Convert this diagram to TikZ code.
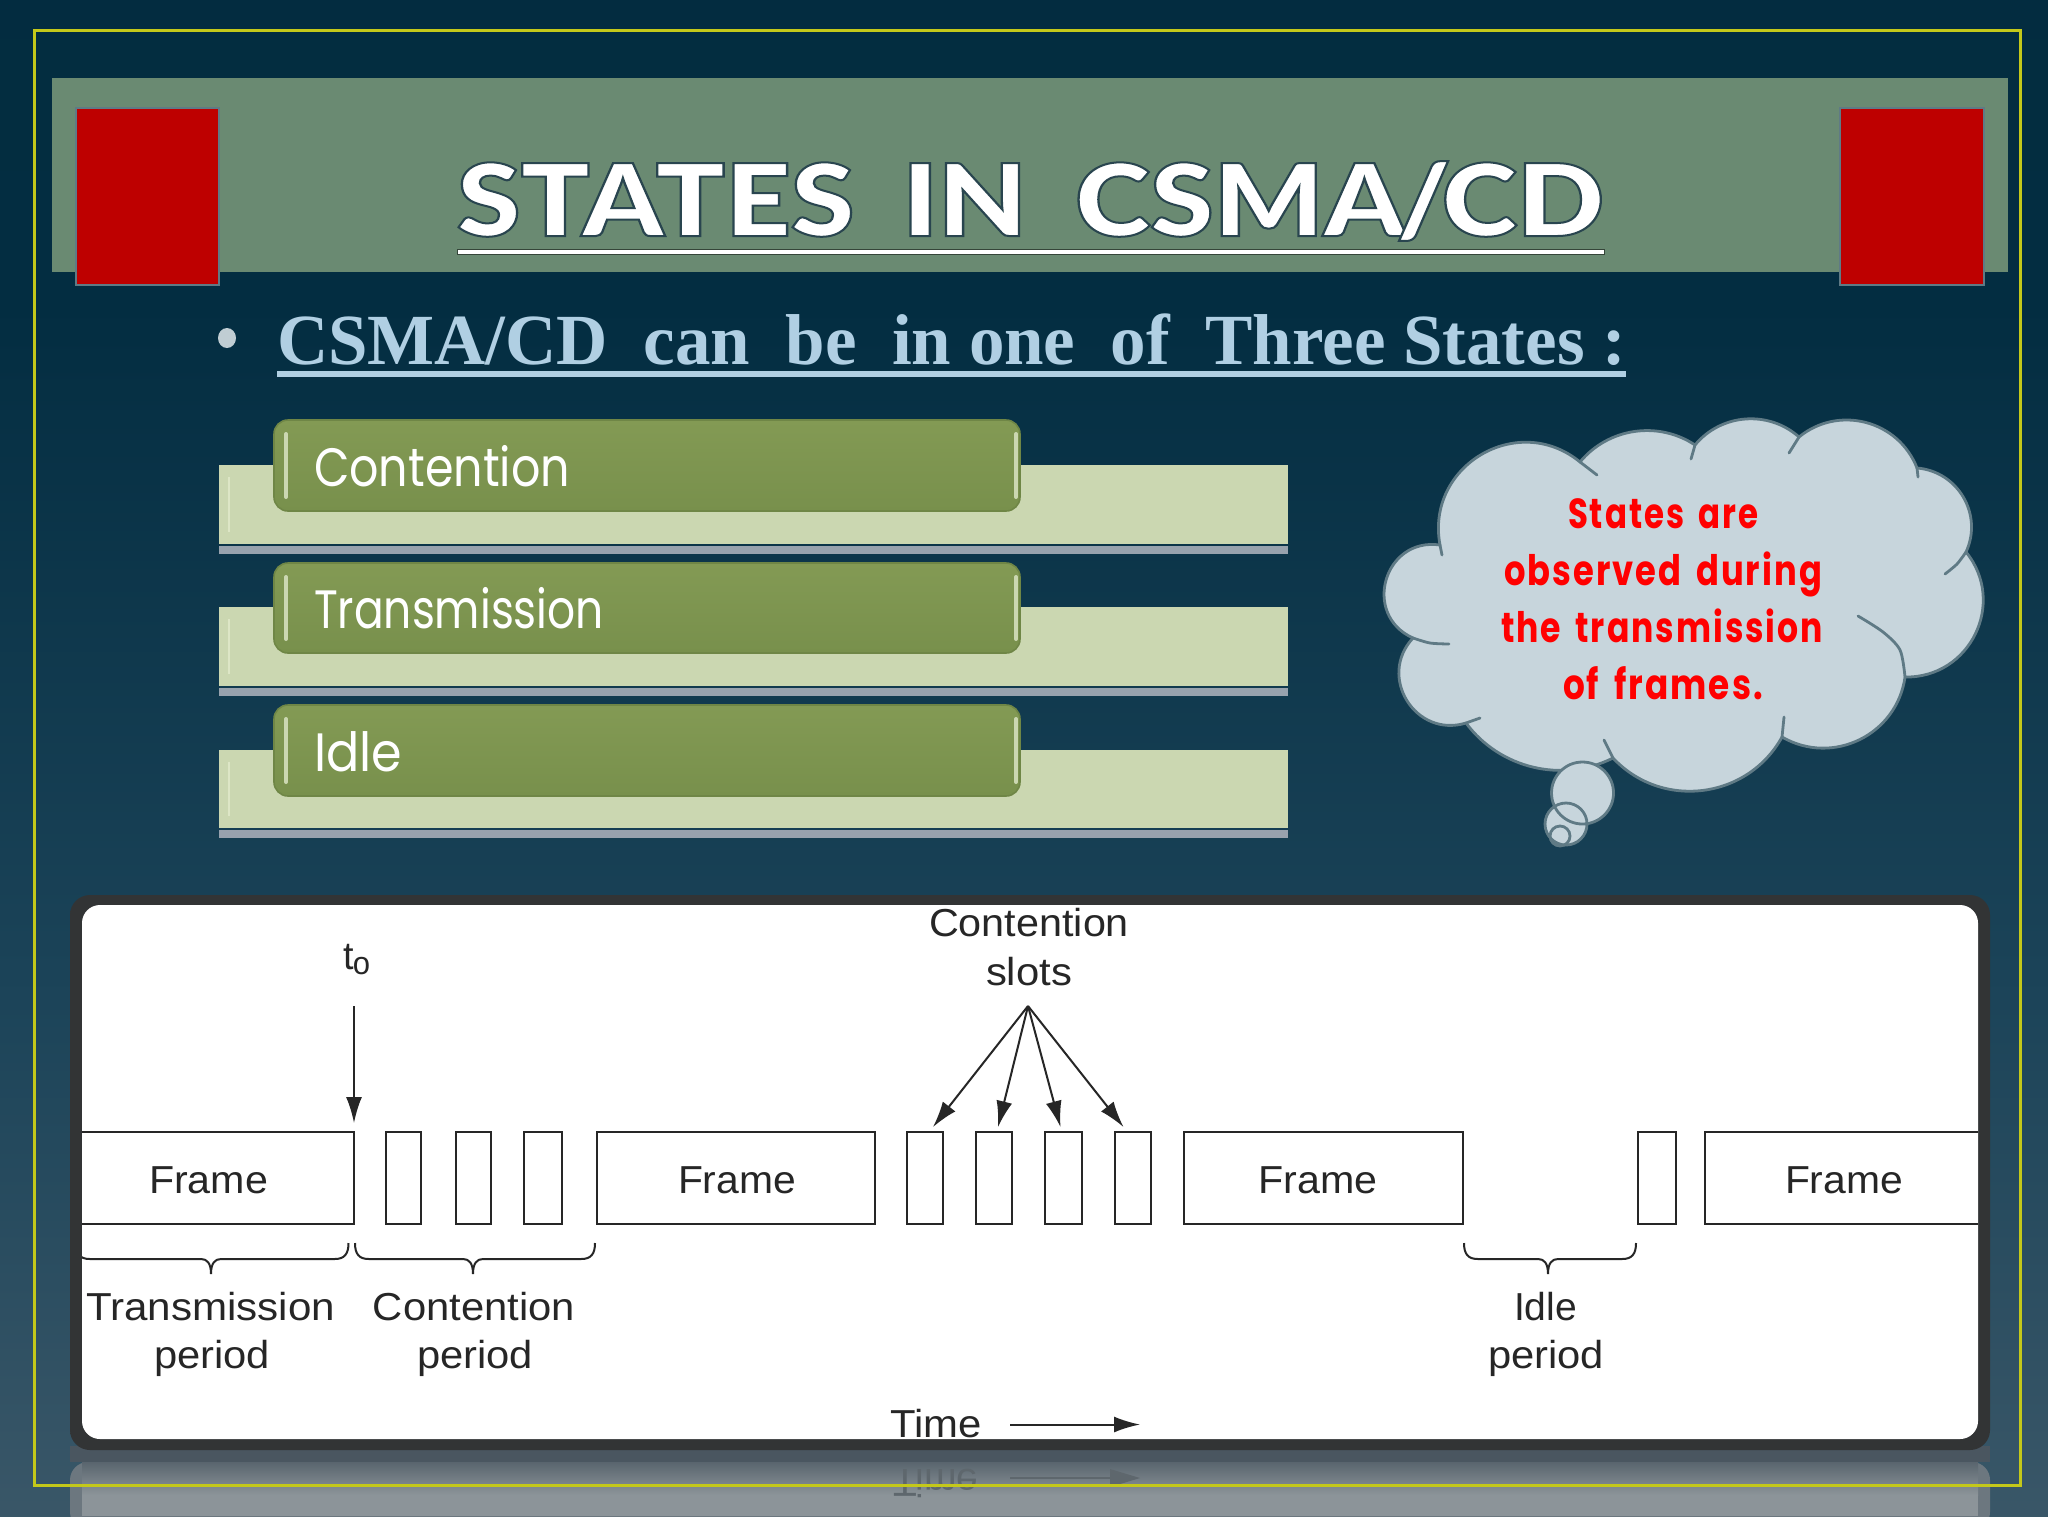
\documentclass[tikz,border=0pt]{standalone}
\usepackage{fontspec}
\usepackage{graphicx}
\usetikzlibrary{arrows.meta}
\setmainfont{Liberation Sans}
\newfontfamily\serfont{Liberation Serif}
\newfontfamily\geofont{Poppins}
\newfontfamily\cloudfont[LetterSpace=6,WordSpace=1.6]{Poppins}
\newfontfamily\heavyfont{Lato Black}
\definecolor{bandc}{HTML}{6A8A72}
\definecolor{redc}{HTML}{BE0000}
\definecolor{yellowc}{HTML}{C4C81A}
\definecolor{headc}{HTML}{B0CFE3}
\definecolor{palec}{HTML}{CBD7B1}
\definecolor{paleh}{HTML}{DDE6C6}
\definecolor{rimc}{HTML}{98A2AE}
\definecolor{greenc}{HTML}{7F9650}
\definecolor{greend}{HTML}{78904C}
\definecolor{greenl}{HTML}{839A54}
\definecolor{greene}{HTML}{6F8646}
\definecolor{cloudc}{HTML}{C7D5DC}
\definecolor{cloudl}{HTML}{5F7A85}
\definecolor{inkc}{HTML}{262626}
\definecolor{bga}{HTML}{667580}
\definecolor{bgb}{HTML}{425C6C}
\definecolor{bgc}{HTML}{1C4459}
\definecolor{bgd}{HTML}{032D41}
\definecolor{bge}{HTML}{022B3D}
\definecolor{reft}{HTML}{59656E}
\definecolor{refb}{HTML}{8C9499}
\definecolor{refr}{HTML}{6C777F}
\definecolor{refk}{HTML}{5E676D}
\definecolor{shadc}{HTML}{4A5660}
\definecolor{frmk}{HTML}{323435}
\definecolor{frmt}{HTML}{6A7372}
\pgfdeclareverticalshading{bgsh}{100bp}{
 color(0bp)=(bga);
 color(20bp)=(bgb);
 color(42bp)=(bgc);
 color(65bp)=(bgd);
 color(100bp)=(bge)}
\pgfdeclareverticalshading{pnlsh}{100bp}{
 color(0bp)=(frmk);
 color(97.5bp)=(frmk);
 color(100bp)=(frmt)}
\def\fit#1#2{\resizebox{\dimexpr #1pt/2\relax}{\height}{#2}}
\def\fs#1{\fontsize{#1}{#1}\selectfont}
\tikzset{
 txt/.style={inner sep=0pt,outer sep=0pt,anchor=base},
 txtw/.style={inner sep=0pt,outer sep=0pt,anchor=base west},
 lab/.style={txt,text=inkc,font=\fs{19.5}},
 redbox/.style={fill=redc,draw=cloudl,line width=1pt},
 greenbox/.style={top color=greenl,bottom color=greend,draw=greene,line width=.8pt,rounded corners=7pt},
 glint/.style={draw=palec,line width=2pt,line cap=round},
 statetxt/.style={txtw,text=white,font=\geofont\fs{27}},
 cloudtxt/.style={txtw,text=red,font=\cloudfont\bfseries\fs{21}},
 cloudedge/.style={fill=cloudc,draw=cloudl,line width=1.4pt,line join=round},
 tick/.style={draw=cloudl,line width=1.4pt,line cap=round},
 cell/.style={draw=inkc,line width=1pt,inner sep=0pt,outer sep=0pt,minimum height=46pt,rectangle,text=inkc,font=\fs{19.5}},
 arr/.style={draw=inkc,line width=1pt,-{Latex[length=13pt,width=8pt]}},
 brc/.style={draw=inkc,line width=1pt},
 lobe/.style={bend left=#1,looseness={(4/3*tan(#1/2))/(2*sin(#1))/0.3915}}
}
\newcommand\cellbox[4]{\node[cell,minimum width={(#3-#2)*0.5pt}] (#1) at ({(#2+#3)/2},1178) {#4};}
\newcommand\curlyb[3]{\draw[brc] (#1,1243) .. controls (#1,1254) and ({#1+4},1259) .. ({#1+14},1259) -- ({#2-10},1259) .. controls ({#2-4},1259) and (#2,1263) .. (#2,1274) .. controls (#2,1263) and ({#2+4},1259) .. ({#2+10},1259) -- ({#3-14},1259) .. controls ({#3-4},1259) and (#3,1254) .. (#3,1243);}
\begin{document}
\begin{tikzpicture}[x=0.5pt,y=-0.5pt]
\useasboundingbox (0,0) rectangle (2048,1516);
\shade[shading=bgsh] (0,0) rectangle (2048,1516);
% header band
\fill[bandc] (52,78) rectangle (2008,272);
\draw[redbox] (76,108) rectangle (219,285);
\draw[redbox] (1840,108) rectangle (1984,285);
\node[txtw] (title) at (457,236) {\color{white}\special{pdf:code 2 Tr 1.0 w 0.16 0.27 0.31 RG}\fit{1147}{\heavyfont\fs{50}STATES\hspace{.42em}IN\hspace{.42em}CSMA\kern-.08em/\kern-.08em CD}\special{pdf:code 0 Tr}};
\draw[fill=white,draw=bandc!50!black,line width=.5pt] (457,249) rectangle (1604,254);
% heading
\fill[cloudc!90!gray] (227,338) ellipse (9 and 10);
\node[txtw,text=headc] (head) at (277,364) {\fit{1349}{\serfont\bfseries\fs{36}CSMA/CD\ \ can\ \ be\ \ in one\ \ of\ \ Three States :}};
\fill[headc] (277,371) rectangle (1626,377);
% state bars
\foreach \ytop/\ybot/\gtop/\gbot/\bline/\lbl/\wid in {465/544/420/511/486/Contention/256,607/686/563/653/628/Transmission/290,750/828/705/796/771/Idle/88}{
 \fill[palec] (219,\ytop) rectangle (1288,\ybot);
 \draw[paleh,line width=1.2pt] (229,{\ytop+12}) -- (229,{\ybot-12});
 \fill[rimc] (219,{\ybot+2}) rectangle (1288,{\ybot+10});
 \draw[greenbox] (274,\gtop) rectangle (1020,\gbot);
 \draw[glint] (286,{\gtop+14}) -- (286,{\gbot-14});
 \draw[glint] (1016,{\gtop+14}) -- (1016,{\gbot-14});
 \node[statetxt] (st\lbl) at (314,\bline) {\fit{\wid}{\lbl}};
}
% cloud
\path[cloudedge]
 (1440,545) to[lobe=70] (1580,462) to[lobe=42] (1695,445) to[lobe=46] (1799,437)
 to[lobe=54] (1917,468) to[lobe=55] (1966,552) to[lobe=65] (1905,677)
 to[lobe=56] (1782,737) to[lobe=54] (1613,758) to[lobe=40] (1466,723)
 to[lobe=75] (1413,638) to[lobe=82] (1440,545) -- cycle;
\draw[tick] (1440,545) -- (1442,555);
\draw[tick] (1580,462) -- (1597,475);
\draw[tick] (1695,445) -- (1691,459);
\draw[tick] (1799,437) -- (1789,453);
\draw[tick] (1917,468) -- (1918,477);
\draw[tick] plot[smooth] coordinates {(1966,552) (1957,564) (1945,574)};
\draw[tick] plot[smooth] coordinates {(1905,677) (1900,650) (1883,632) (1858,616)};
\draw[tick] (1782,737) -- (1784,717);
\draw[tick] (1613,758) -- (1604,740);
\draw[tick] (1466,723) -- (1480,718);
\draw[tick] plot[smooth] coordinates {(1413,638) (1430,643) (1449,644)};
\fill[cloudc] (1582.5,793) circle (31) (1566,824) circle (21) (1560,836) circle (10);
\draw[tick] (1582.5,793) circle (31);
\draw[tick] (1566,824) circle (21);
\draw[tick] (1560,836) circle (10);
\node[cloudtxt] (c1) at (1568,528.5) {\fit{190}{States are}};
\node[cloudtxt] (c2) at (1504,585.5) {\fit{318}{observed during}};
\node[cloudtxt] (c3) at (1501,642.5) {\fit{322}{the transmission}};
\node[cloudtxt] (c4) at (1563,699.5) {\fit{200}{of frames.}};
% reflection
\fill[shadc] (70,1446) rectangle (1990,1462);
\fill[refr,rounded corners=9pt] (70,1462) rectangle (1990,1530);
\shade[top color=reft,bottom color=refb] (82,1462) rectangle (1978,1495);
\fill[refb] (82,1495) rectangle (1978,1516);
\node[txt,text=refk,yscale=-1,font=\fs{19.5}] (timeflip) at (936,1469) {Time};
\fill[refk] (1010,1477) rectangle (1112,1479);
\fill[refk] (1140,1478) -- (1110,1469) -- (1110,1487) -- cycle;
% panel
\shade[rounded corners=10pt,shading=pnlsh] (70,895) rectangle (1990,1450);
\fill[rounded corners=9pt,fill=white] (82,905) rectangle (1978,1439);
\begin{scope}
\clip (82,905) rectangle (1978,1439);
\cellbox{f1}{76}{354}{}
\cellbox{s1}{385.5}{421}{}
\cellbox{s2}{455.5}{491}{}
\cellbox{s3}{524}{561.5}{}
\cellbox{f2}{596.5}{874.5}{}
\cellbox{s4}{907}{943}{}
\cellbox{s5}{976}{1012}{}
\cellbox{s6}{1045}{1082}{}
\cellbox{s7}{1114.5}{1151}{}
\cellbox{f3}{1184}{1463}{}
\cellbox{s8}{1638}{1675.5}{}
\cellbox{f4}{1704.5}{1990}{}
\curlyb{76}{211}{348.5}
\curlyb{355}{473}{595}
\curlyb{1464}{1548}{1636}
\end{scope}
\node[lab] (fr1) at (208.5,1193) {\fit{119}{Frame}};
\node[lab] (fr2) at (737,1193) {\fit{118}{Frame}};
\node[lab] (fr3) at (1318,1193) {\fit{119}{Frame}};
\node[lab] (fr4) at (1844,1193) {\fit{118}{Frame}};
\node[lab] (tsub) at (356.5,969) {\fit{27}{t\kern-.02em\raisebox{-.25ex}{\fs{16}o}}};
\node[lab] (cs1) at (1029,936) {\fit{200}{Contention}};
\node[lab] (cs2) at (1029,985) {\fit{86}{slots}};
\node[lab] (tp1) at (210.5,1320.5) {\fit{249}{Transmission}};
\node[lab] (tp2) at (212,1368.5) {\fit{116}{period}};
\node[lab] (cp1) at (474,1320.5) {\fit{202}{Contention}};
\node[lab] (cp2) at (475,1368.5) {\fit{116}{period}};
\node[lab] (ip1) at (1545.5,1320.5) {\fit{63}{Idle}};
\node[lab] (ip2) at (1546,1368.5) {\fit{116}{period}};
\node[lab] (tm) at (936,1437.5) {\fit{91.5}{Time}};
\coordinate (t0a) at (354,1006);
\coordinate (t0b) at (354,1123);
\coordinate (apex) at (1028,1006);
\coordinate (a1) at (933,1127);
\coordinate (a2) at (998,1127);
\coordinate (a3) at (1060.5,1127);
\coordinate (a4) at (1123.5,1127);
\coordinate (ta) at (1010,1424.5);
\coordinate (tb) at (1140,1424.5);
\draw[arr] (t0a) -- (t0b);
\draw[arr] (apex) -- (a1);
\draw[arr] (apex) -- (a2);
\draw[arr] (apex) -- (a3);
\draw[arr] (apex) -- (a4);
\draw[arr] (ta) -- (tb);
% yellow frame
\draw[yellowc,line width=1.5pt] (34,30) rectangle (2020,1485);
\end{tikzpicture}
\end{document}
